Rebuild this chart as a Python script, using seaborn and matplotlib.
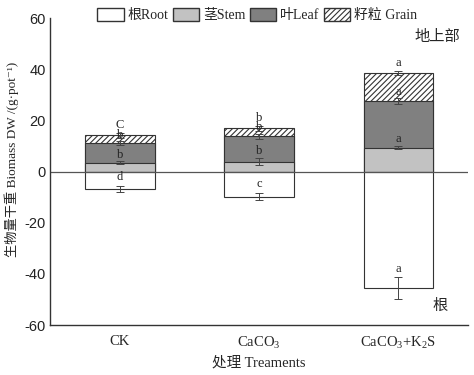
import matplotlib
matplotlib.use("Agg")
import matplotlib.pyplot as plt
import seaborn as sns
import numpy as np
import pandas as pd
from matplotlib.patches import Patch

sns.set_theme(style="white")
plt.rcParams['font.family'] = ['Liberation Serif', 'Noto Sans CJK SC', 'DejaVu Serif']
plt.rcParams['hatch.linewidth'] = 0.8
plt.rcParams['mathtext.fontset'] = 'custom'
plt.rcParams['mathtext.rm'] = 'Liberation Serif'
plt.rcParams['mathtext.it'] = 'Liberation Serif:italic'
plt.rcParams['mathtext.bf'] = 'Liberation Serif:bold'
plt.rcParams['axes.unicode_minus'] = False

categories = ["CK", "CaCO$_3$", "CaCO$_3$+K$_2$S"]
root = [-6.7, -9.8, -45.5]
stem = [3.5, 3.9, 9.4]
leaf = [7.5, 9.8, 18.1]
grain = [3.1, 3.2, 10.9]
root_err = [1.2, 1.5, 4.2]
stem_err = [0.5, 1.5, 0.7]
leaf_err = [0.8, 1.0, 1.2]
grain_err = [0.8, 1.0, 0.7]
root_lab = ["d", "c", "a"]
stem_lab = ["b", "b", "a"]
leaf_lab = ["b", "b", "a"]
grain_lab = ["C", "b", "a"]

stem_top = np.array(stem)
leaf_top = stem_top + np.array(leaf)
grain_top = leaf_top + np.array(grain)

df = pd.DataFrame({"cat": categories, "root": root, "stem": stem_top,
                   "leaf": leaf_top, "grain": grain_top})

fig = plt.figure(figsize=(4.74, 3.75), dpi=100)
ax = fig.add_axes([0.1055, 0.133, 0.882, 0.819])

ek = dict(edgecolor="#333333", linewidth=0.8, width=0.5)
sns.barplot(data=df, x="cat", y="grain", color="white", hatch="//////", ax=ax, **ek)
sns.barplot(data=df, x="cat", y="leaf", color="#808080", saturation=1, ax=ax, **ek)
sns.barplot(data=df, x="cat", y="stem", color="#c2c2c2", saturation=1, ax=ax, **ek)
sns.barplot(data=df, x="cat", y="root", color="white", ax=ax, **ek)
for p in ax.patches:
    p.set_edgecolor("#333333")

x = np.arange(len(categories))
eb = dict(fmt="none", ecolor="#444444", elinewidth=0.7, capsize=3, capthick=0.7)
ax.errorbar(x, root, yerr=root_err, **eb)
ax.errorbar(x, stem_top, yerr=stem_err, **eb)
ax.errorbar(x, leaf_top, yerr=leaf_err, **eb)
ax.errorbar(x, grain_top, yerr=grain_err, **eb)

tk = dict(ha="center", va="bottom", fontsize=9, color="#222222")
for i in range(3):
    ax.text(x[i], root[i] + root_err[i] + 1.0, root_lab[i], **tk)
    ax.text(x[i], stem_top[i] + stem_err[i] + 0.2, stem_lab[i], **tk)
    ax.text(x[i], leaf_top[i] + leaf_err[i] + 0.2, leaf_lab[i], **tk)
    ax.text(x[i], grain_top[i] + grain_err[i] + 0.8, grain_lab[i], **tk)

ax.axhline(0, color="#555555", linewidth=0.9)
ax.set_xlim(-0.5, 2.5)
ax.set_ylim(-60, 60)
ax.set_yticks([-60, -40, -20, 0, 20, 40, 60])
ax.tick_params(axis="y", direction="in", length=4, width=0.8, labelsize=10.5,
               colors="#222222", pad=3)
for lab in ax.get_yticklabels():
    lab.set_family(['Liberation Sans'])
ax.tick_params(axis="x", length=0, labelsize=10.5, pad=7)
for s in ["top", "right"]:
    ax.spines[s].set_visible(False)
for s in ["left", "bottom"]:
    ax.spines[s].set_color("#333333")
    ax.spines[s].set_linewidth(1.0)

ax.set_xlabel("处理 Treaments", fontsize=10.5, labelpad=4)
ax.set_ylabel("生物量干重 Biomass DW /(g·pot⁻¹)", fontsize=9.5)
ax.yaxis.set_label_coords(-0.074, 0.54)

ax.text(2.28, 52.5, "地上部", ha="center", va="center", fontsize=11)
ax.text(2.3, -52.5, "根", ha="center", va="center", fontsize=11)

handles = [Patch(facecolor="white", edgecolor="#333333", label="根Root"),
           Patch(facecolor="#c2c2c2", edgecolor="#333333", label="茎Stem"),
           Patch(facecolor="#808080", edgecolor="#333333", label="叶Leaf"),
           Patch(facecolor="white", edgecolor="#333333", hatch="//////", label="籽粒 Grain")]
fig.legend(handles=handles, loc="upper center", bbox_to_anchor=(0.543, 1.012), ncol=4,
           frameon=False, fontsize=10, handlelength=1.9, handleheight=1.1,
           columnspacing=0.3, handletextpad=0.3)

fig.savefig("out.png", dpi=100)
